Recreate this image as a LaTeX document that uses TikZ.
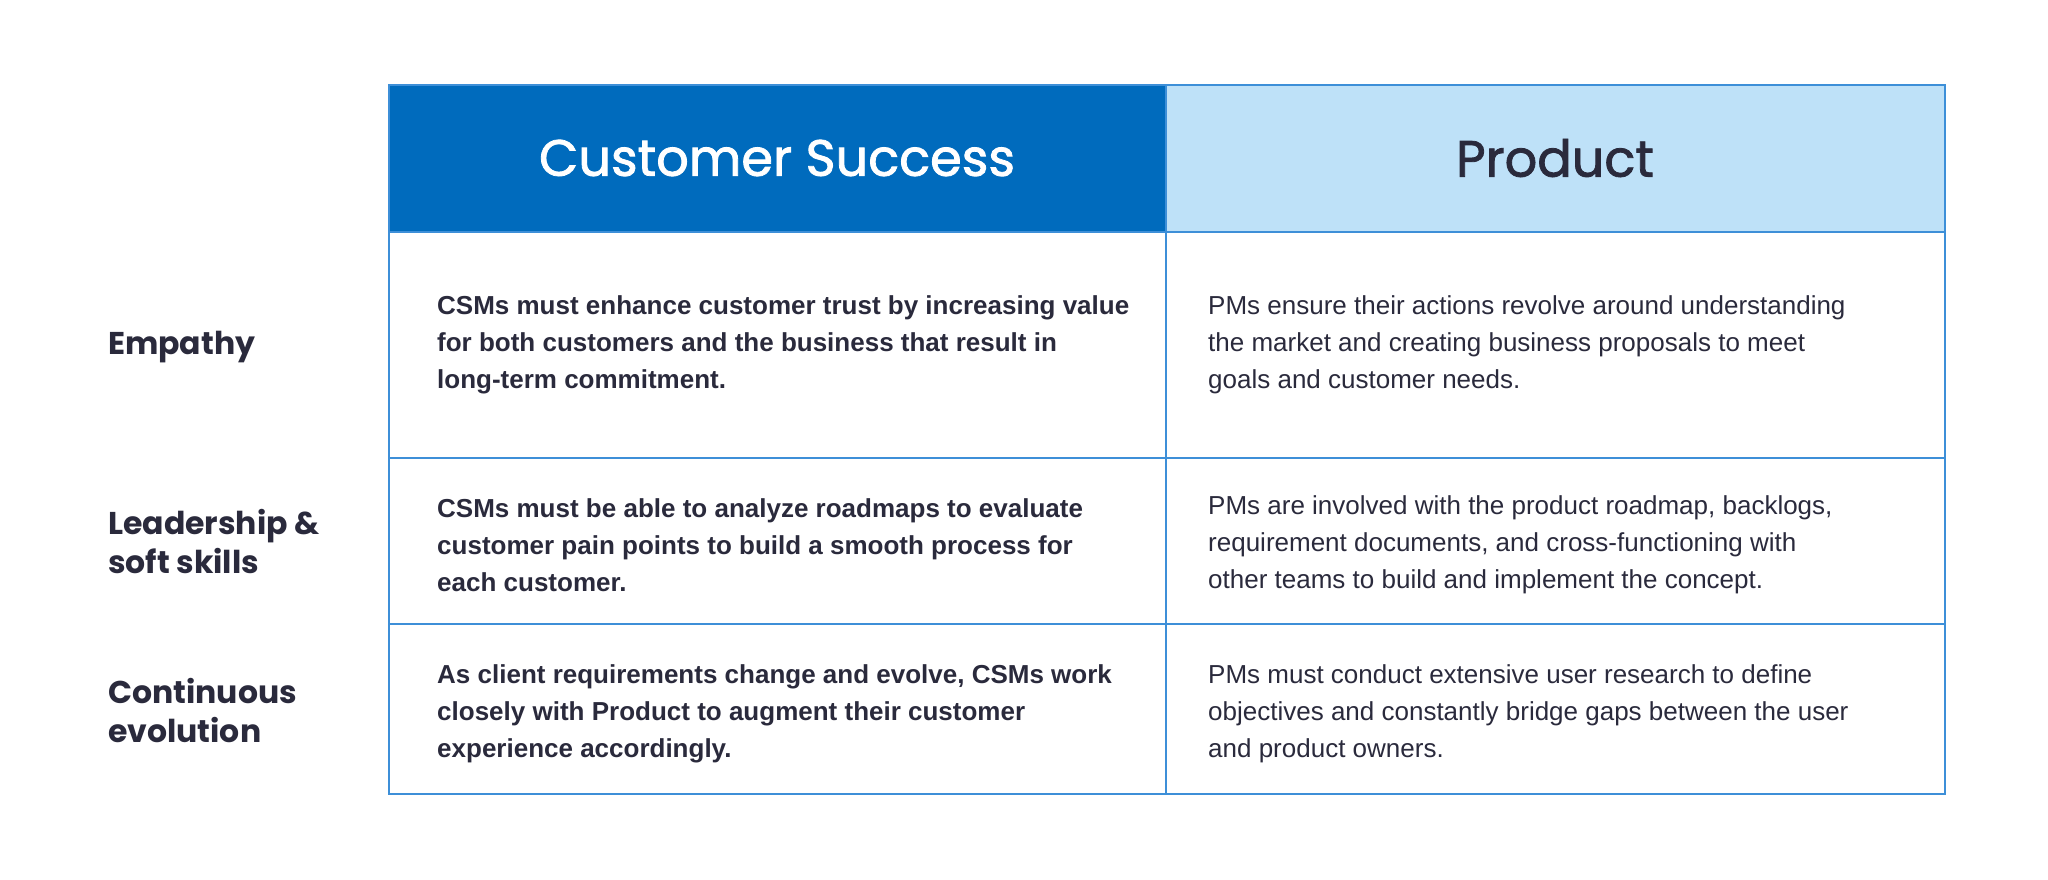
\documentclass[tikz,border=0pt]{standalone}
\usepackage{fontspec}
\setmainfont{Liberation Sans}
\newfontfamily\headfont{Poppins}
\newfontfamily\headfontb[FakeBold=1.6]{Poppins}
\definecolor{hdark}{HTML}{006BBD}
\definecolor{hlight}{HTML}{BEE1F8}
\definecolor{grid}{HTML}{3D8FD8}
\definecolor{ink}{HTML}{2A2A3C}
\begin{document}
\begin{tikzpicture}[x=1pt,y=-1pt,
  head/.style={font=\headfontb\fontsize{51}{60}\selectfont, anchor=center},
  lab/.style={font=\headfont\bfseries\fontsize{31.5}{39}\selectfont, text=ink, anchor=west, align=left, inner sep=0},
  cs/.style={font=\bfseries\fontsize{26}{37}\selectfont, text=ink, anchor=west, align=left, inner sep=0},
  pm/.style={font=\fontsize{26}{37}\selectfont, text=ink, anchor=west, align=left, inner sep=0},
  cell/.style={draw=grid, line width=1.3pt}]
\useasboundingbox (0,0) rectangle (2048,879);
\fill[white] (0,0) rectangle (2048,879);
\fill[hdark] (389,85) rectangle (1166,232);
\fill[hlight] (1166,85) rectangle (1945,232);
\draw[cell] (389,85) rectangle (1945,794);
\draw[cell] (1166,85) -- (1166,794);
\draw[cell] (389,232) -- (1945,232);
\draw[cell] (389,458) -- (1945,458);
\draw[cell] (389,624) -- (1945,624);
\node[head, text=white] (hcs) at (777,158) {Customer Success};
\node[head, text=ink] (hpm) at (1555,158) {Product};
\node[lab] (l1) at (108,347) {Empathy};
\node[lab] (l2) at (108,541) {Leadership \&\\soft skills};
\node[lab] (l3) at (108,710) {Continuous\\evolution};
\node[cs] (c1) at (437,345) {CSMs must enhance customer trust by increasing value\\for both customers and the business that result in\\long-term commitment.};
\node[cs] (c2) at (437,545) {CSMs must be able to analyze roadmaps to evaluate\\customer pain points to build a smooth process for\\each customer.};
\node[cs] (c3) at (437,714) {As client requirements change and evolve, CSMs work\\closely with Product to augment their customer\\experience accordingly.};
\node[pm] (p1) at (1208,345) {PMs ensure their actions revolve around understanding\\the market and creating business proposals to meet\\goals and customer needs.};
\node[pm] (p2) at (1208,545) {PMs are involved with the product roadmap, backlogs,\\requirement documents, and cross-functioning with\\other teams to build and implement the concept.};
\node[pm] (p3) at (1208,714) {PMs must conduct extensive user research to define\\objectives and constantly bridge gaps between the user\\and product owners.};
\end{tikzpicture}
\end{document}
